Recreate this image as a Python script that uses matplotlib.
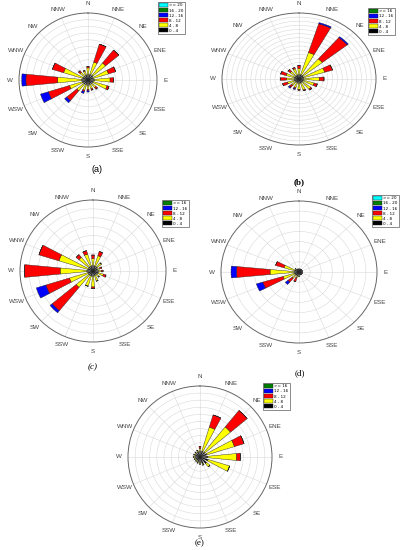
import numpy as np
import matplotlib
matplotlib.use("Agg")
import matplotlib.pyplot as plt
from matplotlib.patches import Patch

W, H = 404, 550

dirs = ['N', 'NNE', 'NE', 'ENE', 'E', 'ESE', 'SE', 'SSE',
        'S', 'SSW', 'SW', 'WSW', 'W', 'WNW', 'NW', 'NNW']
angles = np.deg2rad(np.arange(16) * 22.5)

speed_colors = ['#000000', '#ffff00', '#ff0000', '#0000ff', '#008000', '#00ffff']

# frequency per direction for each speed class (0-4, 4-8, 8-12, 12-16)
a_04 = [0.8, 0.9, 0.9, 0.8, 0.9, 0.8, 0.7, 0.7, 0.8, 0.7, 0.8, 0.9, 0.9, 0.8, 0.7, 0.8]
a_48 = [1.0, 1.9, 2.4, 2.3, 2.3, 2.1, 0.8, 0.7, 0.6, 0.9, 1.3, 1.9, 3.5, 2.9, 0.8, 0.6]
a_812 = [0.2, 2.8, 2.5, 1.1, 0.5, 0.3, 0.3, 0.2, 0.2, 0.2, 1.9, 3.2, 4.6, 1.7, 0.3, 0.1]
a_1216 = [0, 0, 0, 0, 0, 0, 0, 0, 0.2, 0.3, 0.4, 1.2, 0.6, 0, 0, 0]

b_04 = [1.0, 1.1, 1.1, 1.0, 1.0, 0.9, 0.9, 1.0, 1.0, 0.9, 0.9, 1.0, 1.0, 1.0, 0.9, 1.0]
b_48 = [1.5, 5.6, 5.2, 4.6, 3.2, 2.4, 2.3, 1.8, 1.5, 1.3, 1.1, 1.5, 1.6, 1.8, 1.5, 1.6]
b_812 = [0.8, 7.3, 6.7, 1.7, 1.0, 0.7, 0.3, 0.2, 0.2, 0.3, 0.6, 1.1, 1.2, 1.2, 0.6, 0.3]
b_1216 = [0, 0.3, 0.3, 0, 0, 0, 0, 0, 0, 0.2, 0.3, 0, 0, 0, 0, 0]

c_04 = [0.6, 0.6, 0.6, 0.5, 0.6, 0.6, 0.5, 0.5, 0.6, 0.6, 0.6, 0.6, 0.7, 0.6, 0.6, 0.6]
c_48 = [0.8, 1.2, 0.6, 0.3, 0.3, 0.6, 0.4, 0.7, 1.2, 1.2, 1.8, 2.1, 2.9, 3.3, 1.4, 1.4]
c_812 = [0.4, 0.5, 0, 0.2, 0.2, 0.3, 0, 0, 0.2, 0, 3.4, 2.7, 3.9, 2.3, 0.4, 0.4]
c_1216 = [0, 0, 0, 0, 0, 0, 0, 0, 0, 0, 0.3, 1.1, 0, 0, 0, 0]

d_04 = [0.3, 0.3, 0.3, 0.3, 0.3, 0.3, 0.3, 0.3, 0.35, 0.4, 0.4, 0.4, 0.45, 0.4, 0.35, 0.3]
d_48 = [0, 0, 0, 0, 0, 0, 0, 0, 0.1, 0.2, 0.4, 1.1, 2.15, 1.0, 0.1, 0]
d_812 = [0, 0, 0, 0, 0, 0, 0, 0, 0, 0.4, 0.5, 1.9, 3.0, 0.8, 0, 0]
d_1216 = [0, 0, 0, 0, 0, 0, 0, 0, 0, 0, 0.3, 0.6, 0.5, 0, 0, 0]

e_04 = [0.8, 0.9, 0.9, 1.0, 1.1, 1.2, 1.2, 1.0, 0.8, 0.7, 0.6, 0.6, 0.7, 0.7, 0.7, 0.8]
e_48 = [0.4, 3.5, 4.6, 4.0, 4.0, 3.1, 0.6, 0.2, 0.2, 0.2, 0.2, 0.2, 0.2, 0.2, 0.2, 0.2]
e_812 = [0.3, 1.8, 3.0, 1.4, 0.5, 0, 0, 0, 0, 0, 0, 0, 0, 0, 0, 0]
e_1216 = [0] * 16

labels6 = ['>= 20', '16 - 20', '12 - 16', '8 - 12', '4 - 8', '0 - 4']
labels5 = ['>= 16', '12 - 16', '8 - 12', '4 - 8', '0 - 4']


def rose(cx, cy, rx, ry, nrings, segs, leg_labels, leg_xy, caption, cap_xy, cap_font):
    ax = fig.add_axes([(cx - rx) / W, 1 - (cy + ry) / H, 2 * rx / W, 2 * ry / H],
                      projection='polar')
    ax.set_aspect('auto')
    ax.set_theta_zero_location('N')
    ax.set_theta_direction(-1)
    bottom = np.zeros(16)
    for vals, col in zip(segs, speed_colors):
        vals = np.array(vals, dtype=float)
        ax.bar(angles, vals, width=np.deg2rad(11), bottom=bottom, color=col,
               edgecolor='#222222', linewidth=0.3, zorder=3)
        bottom += vals
    ax.set_rlim(0, nrings)
    ax.set_yticks(np.arange(1, nrings))
    ax.set_yticklabels([])
    ax.set_xticks(angles)
    ax.set_xticklabels(dirs, fontsize=4.5, color='#444444', family='Liberation Sans')
    ax.set_xticks(np.deg2rad(np.arange(0, 360, 10)), minor=True)
    ax.tick_params(axis='x', which='major', length=0, pad=-0.5)
    ax.tick_params(axis='x', which='minor', length=2, width=0.4, color='#777777',
                   direction='out')
    ax.grid(True, color='#d9d9d9', linewidth=0.4)
    ax.spines['polar'].set_color('#666666')
    ax.spines['polar'].set_linewidth(0.7)

    n = len(leg_labels)
    handles = [Patch(facecolor=c, edgecolor='#222222', linewidth=0.3)
               for c in speed_colors[:n]][::-1]
    leg = fig.legend(handles, leg_labels, loc='upper left',
                     bbox_to_anchor=(leg_xy[0] / W, 1 - leg_xy[1] / H),
                     fontsize=3.0, frameon=True, fancybox=False,
                     handlelength=2.2, handleheight=1.1, labelspacing=0.15,
                     borderpad=0.25, handletextpad=0.3, borderaxespad=0)
    leg.get_frame().set_edgecolor('#333333')
    leg.get_frame().set_linewidth(0.5)
    fig.text(cap_xy[0] / W, 1 - cap_xy[1] / H, caption, ha='center', va='center',
             fontsize=6.5, **cap_font)
    return ax


fig = plt.figure(figsize=(W / 100, H / 100), dpi=100)

rose(88, 80, 69, 67, 10, [a_04, a_48, a_812, a_1216], labels6, (158, 2),
     '(a)', (97, 170), dict(family='Liberation Sans'))
rose(299, 79, 77, 66, 16, [b_04, b_48, b_812, b_1216], labels5, (368, 8),
     '(b)', (299, 182), dict(family='Liberation Serif', weight='bold'))
rose(93, 271, 73, 71, 8, [c_04, c_48, c_812, c_1216], labels5, (162, 200),
     '(c)', (93, 367), dict(family='Liberation Serif', style='italic'))
rose(299, 272, 78, 71, 7, [d_04, d_48, d_812, d_1216], labels6, (372, 195),
     '(d)', (300, 373), dict(family='Liberation Serif'))
rose(200, 457, 72, 71, 10, [e_04, e_48, e_812, e_1216], labels5, (263, 383),
     '(e)', (200, 543), dict(family='Liberation Serif'))

fig.savefig('out.png', dpi=100, facecolor='white')
